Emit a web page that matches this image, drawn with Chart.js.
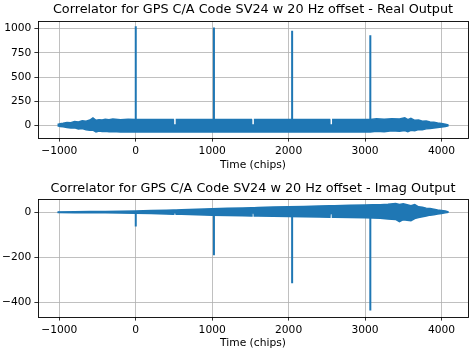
<!DOCTYPE html>
<html>
<head>
<meta charset="utf-8">
<script src="https://cdn.jsdelivr.net/npm/chart.js@4/dist/chart.umd.min.js"></script>
<style>
  html, body { margin: 0; padding: 0; background: #fff; }
  #wrap { position: relative; width: 474px; height: 353px; }
  canvas { position: absolute; left: 0; }
</style>
</head>
<body>
<div id="wrap">
  <canvas id="realChart" width="474" height="176" style="top:0"></canvas>
  <canvas id="imagChart" width="474" height="177" style="top:176px"></canvas>
</div>
<script>
// correlation peaks, every 1023 chips
const spikeX = [0, 1023, 2046, 3069];
const realPeaks = [1023, 1010, 977, 932];
const imagPeaks = [-63, -191, -315, -435];

// noise band envelope, real part
const realX = [-1023, -990, -950, -900, -850, -800, -750, -700, -650, -600, -560, -520, -480, -440, -400, -350, -300, -200, -100, 0,
  490, 493, 529, 532, 1513, 1516, 1552, 1555, 2536, 2539, 2575, 2578,
  3069, 3150, 3250, 3350, 3450, 3520, 3560, 3600, 3650, 3700, 3750, 3800, 3850, 3900, 3950, 4000, 4050, 4092];
const realUpper = [12, 20, 25, 33, 30, 42, 38, 50, 45, 58, 80, 55, 62, 58, 65, 60, 68, 62, 66, 63,
  63, 8, 8, 63, 63, 8, 8, 63, 63, 8, 8, 63,
  63, 70, 66, 72, 68, 80, 62, 75, 55, 58, 45, 48, 38, 35, 27, 22, 14, 6];
const realLower = [-2, -8, -12, -20, -25, -22, -35, -30, -42, -48, -45, -65, -55, -60, -58, -62, -60, -65, -62, -65,
  -65, -65, -65, -65, -65, -65, -65, -65, -65, -65, -65, -65,
  -65, -58, -62, -52, -58, -50, -62, -48, -52, -40, -42, -33, -30, -25, -20, -15, -8, 0];

// noise band envelope, imaginary part
const imagX = [-1023, -800, -600, -400, -200, 0, 200, 400, 494, 497, 525, 528, 600, 800, 1000, 1200, 1400,
  1517, 1520, 1548, 1551, 1600, 1800, 2000, 2200, 2400, 2540, 2543, 2571, 2574, 2600, 2800, 3000,
  3100, 3200, 3300, 3400, 3450, 3500, 3550, 3600, 3650, 3700, 3750, 3800, 3850, 3900, 3950, 4000, 4050, 4092];
const imagUpper = [1, 2, 3, 3, 4, 5, 7, 9, 10, 10, 10, 10, 11, 13, 15, 17, 19,
  20, 20, 20, 20, 21, 23, 24, 25, 27, 28, 28, 28, 28, 29, 31, 32,
  33, 33, 35, 38, 34, 37, 33, 29, 34, 24, 22, 18, 16, 13, 10, 8, 5, 1];
const imagLower = [-1, -2, -2, -3, -4, -5, -6, -8, -9, -3, -3, -9, -9, -11, -13, -15, -16,
  -17, -4, -4, -17, -17, -18, -19, -20, -21, -22, -6, -6, -22, -22, -23, -25,
  -26, -27, -30, -32, -42, -33, -36, -38, -28, -24, -20, -17, -13, -11, -8, -6, -3, 0];

const xTicks = [-1000, 0, 1000, 2000, 3000, 4000];
const realTicks = [0, 250, 500, 750, 1000];
const imagTicks = [-400, -200, 0];

const BLUE = "#1f77b4";
const FONT = "DejaVu Sans";

function fmt(v) {
  return v < 0 ? "\u2212" + Math.abs(v) : String(v);
}

const frame = {
  id: "frame",
  afterDatasetsDraw(chart) {
    const a = chart.chartArea;
    const ctx = chart.ctx;
    ctx.save();
    ctx.strokeStyle = "#000";
    ctx.lineWidth = 0.9;
    ctx.strokeRect(Math.round(a.left) + 0.5, Math.round(a.top) + 0.5,
      Math.round(a.right - a.left), Math.round(a.bottom - a.top));
    ctx.restore();
  },
};

function makeChart(canvas, cfg) {
  const pts = (xs, ys) => xs.map((x, i) => ({ x, y: ys[i] }));
  const spikes = spikeX.flatMap((x, i) => [{ x, y: 0 }, { x, y: cfg.peaks[i] }, { x, y: null }]);
  const grid = { color: "#b0b0b0", lineWidth: 0.8, tickLength: 3.6, tickColor: "#000", tickWidth: 0.8 };

  return new Chart(canvas, {
    type: "line",
    data: {
      datasets: [
        {
          data: pts(cfg.x, cfg.upper),
          borderColor: BLUE, backgroundColor: BLUE, borderWidth: 1.5,
          pointRadius: 0, fill: "+1", tension: 0,
        },
        {
          data: pts(cfg.x, cfg.lower),
          borderColor: BLUE, borderWidth: 1.5, pointRadius: 0, fill: false, tension: 0,
        },
        {
          data: spikes,
          borderColor: BLUE, borderWidth: 2, pointRadius: 0, fill: false,
          spanGaps: false, borderCapStyle: "butt",
        },
      ],
    },
    options: {
      responsive: false,
      animation: false,
      events: [],
      layout: { padding: { left: 0, right: 6, top: 0, bottom: 0 } },
      plugins: {
        legend: { display: false },
        tooltip: { enabled: false },
        title: {
          display: true,
          text: cfg.title,
          fullSize: false,
          color: "#000",
          font: { family: FONT, size: 12.8, weight: "normal", lineHeight: 1.15 },
          padding: cfg.titlePad,
        },
      },
      scales: {
        x: {
          type: "linear",
          min: -1279,
          max: 4347,
          afterBuildTicks: (s) => { s.ticks = xTicks.map((v) => ({ value: v })); },
          afterFit: (s) => { s.height = cfg.xHeight; },
          ticks: { color: "#000", padding: 3, maxRotation: 0, font: { family: FONT, size: 10.7 }, callback: fmt },
          grid,
          border: { display: false },
          title: {
            display: true, text: "Time (chips)", color: "#000",
            font: { family: FONT, size: 10.7 }, padding: { top: 0, bottom: cfg.xTitlePad },
          },
        },
        y: {
          type: "linear",
          min: cfg.ymin,
          max: cfg.ymax,
          afterBuildTicks: (s) => { s.ticks = cfg.yTicks.map((v) => ({ value: v })); },
          afterFit: (s) => { s.width = 38; },
          ticks: { color: "#000", padding: 3, font: { family: FONT, size: 10.7 }, callback: fmt },
          grid,
          border: { display: false },
        },
      },
    },
    plugins: [frame],
  });
}

makeChart(document.getElementById("realChart"), {
  title: "Correlator for GPS C/A Code SV24 w 20 Hz offset - Real Output",
  x: realX, upper: realUpper, lower: realLower, peaks: realPeaks,
  ymin: -127, ymax: 1078, yTicks: realTicks,
  titlePad: { top: 2.6, bottom: 3.7 }, xHeight: 38, xTitlePad: 4.6,
});

makeChart(document.getElementById("imagChart"), {
  title: "Correlator for GPS C/A Code SV24 w 20 Hz offset - Imag Output",
  x: imagX, upper: imagUpper, lower: imagLower, peaks: imagPeaks,
  ymin: -464, ymax: 57, yTicks: imagTicks,
  titlePad: { top: 4.9, bottom: 3.7 }, xHeight: 36, xTitlePad: 3.6,
});
</script>
</body>
</html>
